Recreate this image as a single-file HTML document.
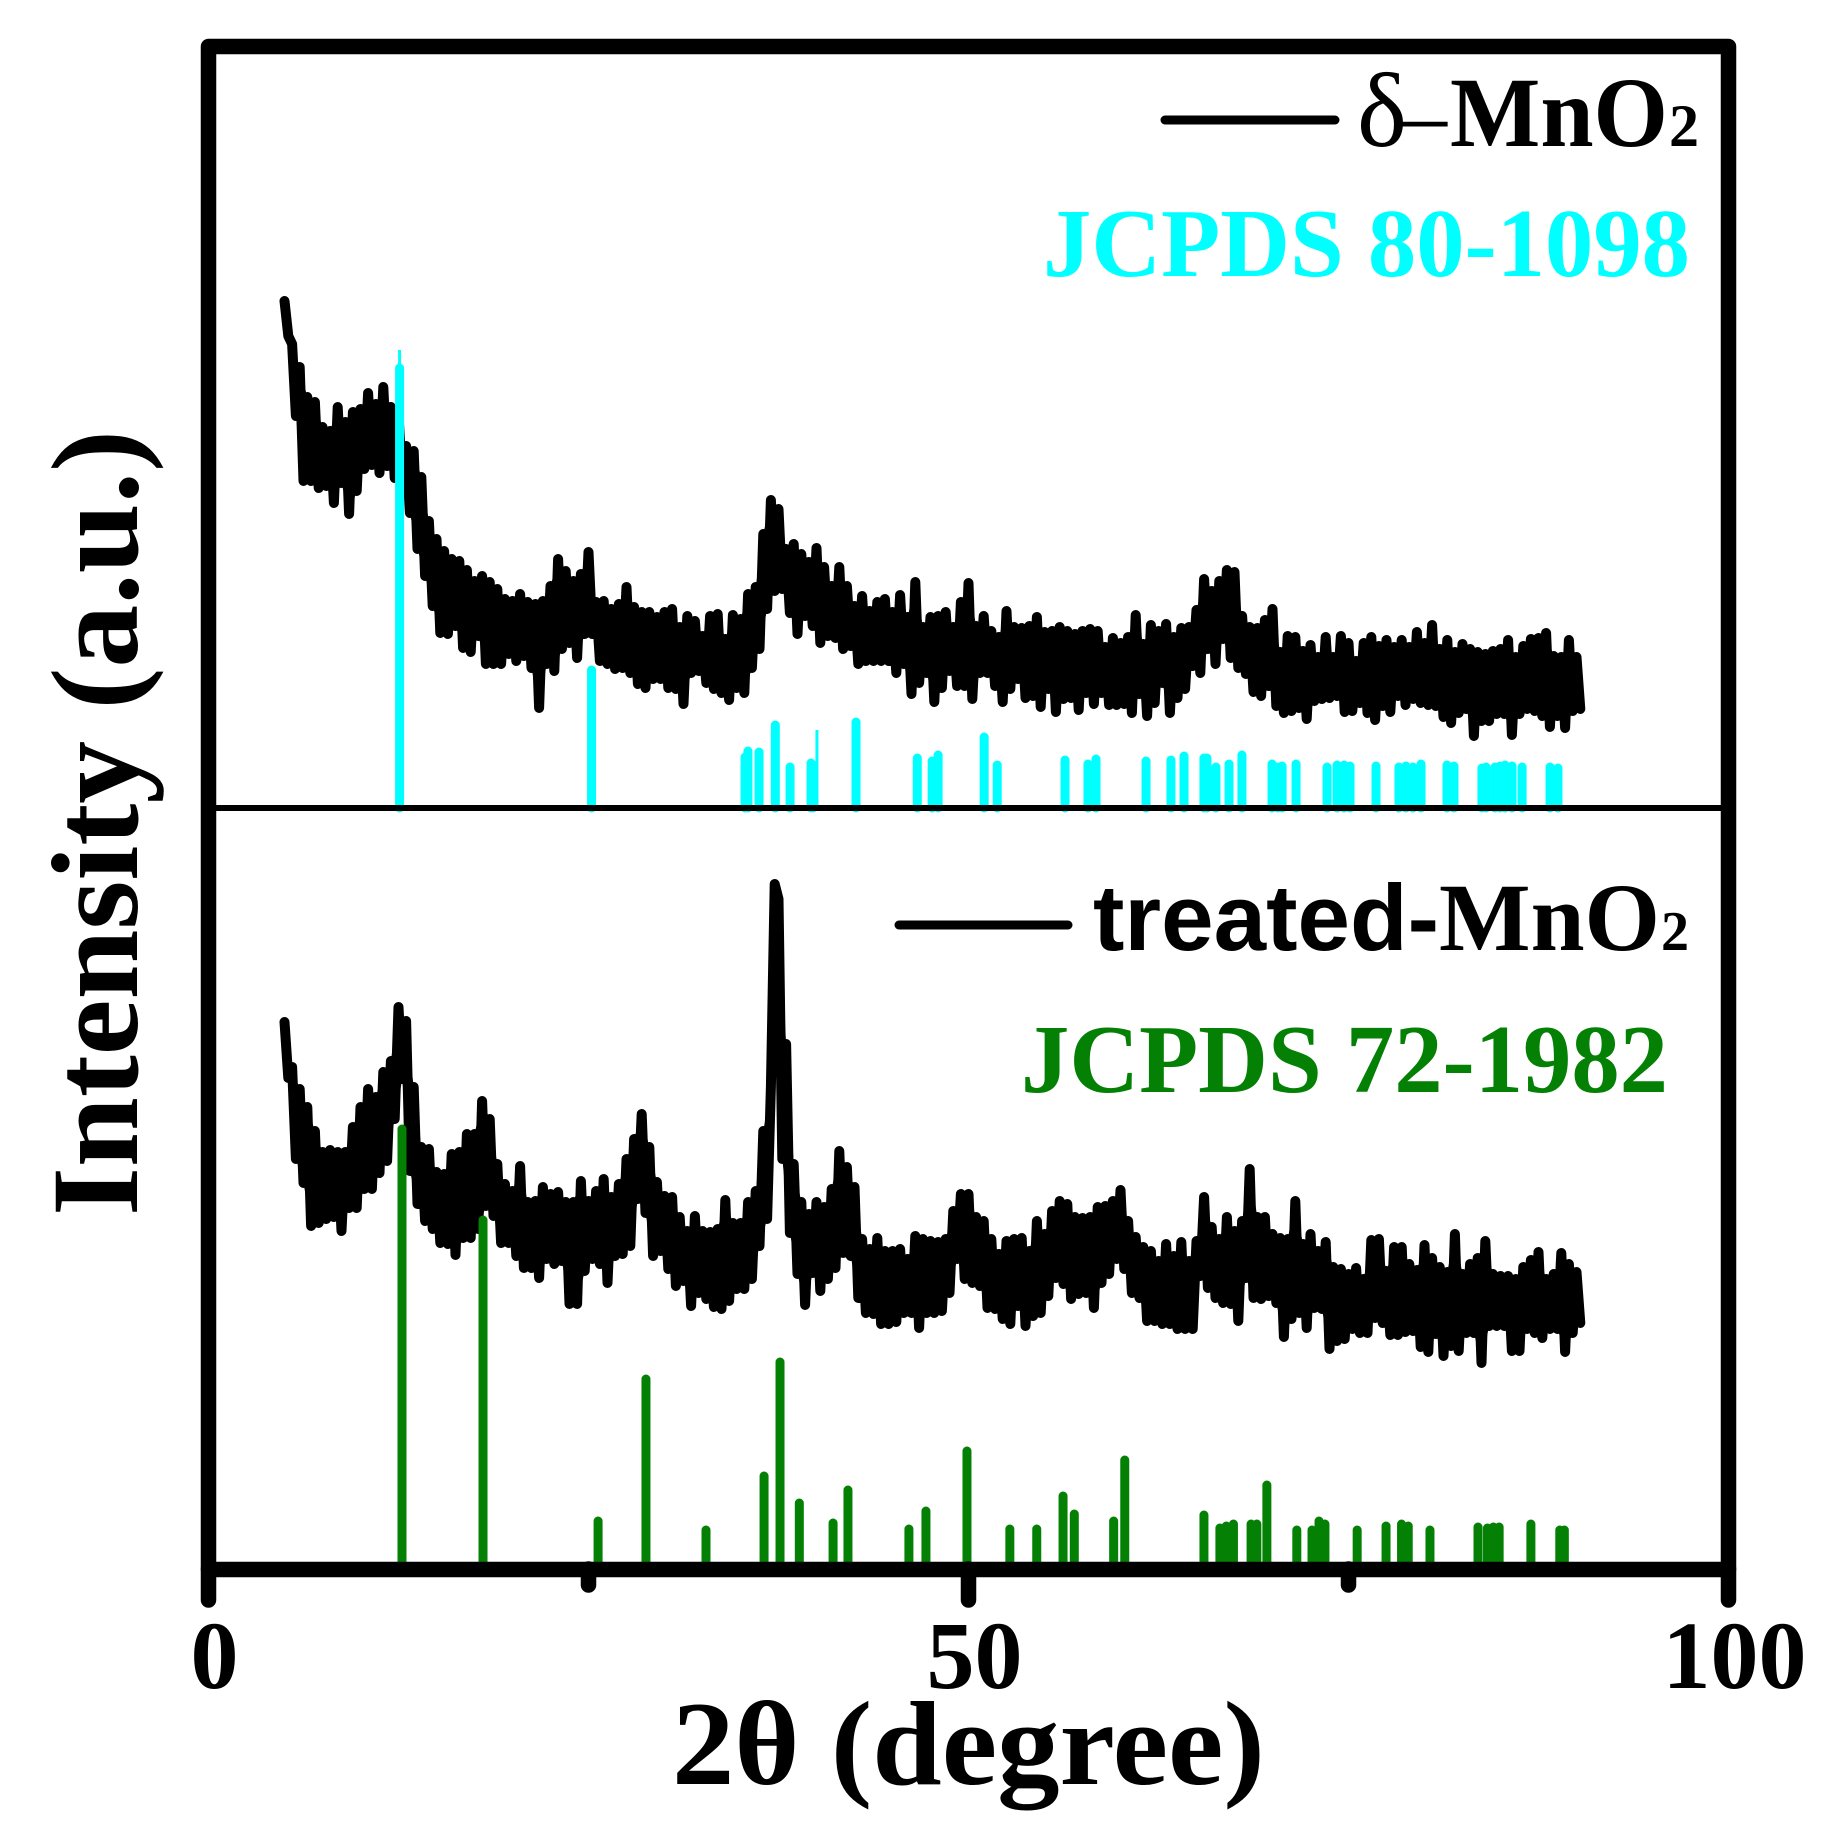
<!DOCTYPE html>
<html lang="en">
<head>
<meta charset="utf-8">
<title>XRD patterns of delta-MnO2 and treated-MnO2</title>
<style>
html,body{margin:0;padding:0;background:#fff;width:1840px;height:1848px;overflow:hidden}
svg{display:block}
text{font-family:"Liberation Serif","DejaVu Serif",serif;font-weight:bold}
</style>
</head>
<body>
<svg id="chart" xmlns="http://www.w3.org/2000/svg" width="1840" height="1848" viewBox="0 0 1840 1848">
  <rect x="0" y="0" width="1840" height="1848" fill="#fff"/>
  <g id="marks"></g>
  <g id="axes"></g>

  <text x="137" y="1216" font-size="124" textLength="786" lengthAdjust="spacingAndGlyphs" transform="rotate(-90 137 1216)">Intensity (a.u.)</text>
  <text x="672" y="1784" font-size="120" textLength="593" lengthAdjust="spacingAndGlyphs">2θ (degree)</text>

  <line x1="1165" y1="120" x2="1335" y2="120" stroke="#000" stroke-width="9" stroke-linecap="round"/>
  <text y="146" font-size="100"><tspan x="1357" font-weight="normal" font-size="106">δ</tspan><tspan x="1400" font-weight="normal" font-size="94">–</tspan><tspan x="1450" textLength="218" lengthAdjust="spacingAndGlyphs">MnO</tspan><tspan x="1669" font-size="60">2</tspan></text>
  <text x="1043" y="276" font-size="98" fill="#00ffff" textLength="647" lengthAdjust="spacingAndGlyphs">JCPDS 80-1098</text>

  <line x1="899" y1="925" x2="1068" y2="925" stroke="#000" stroke-width="9" stroke-linecap="round"/>
  <text y="950" font-size="96"><tspan x="1093" font-family="Liberation Sans" font-size="94" textLength="346" lengthAdjust="spacingAndGlyphs">treated-</tspan><tspan x="1439" textLength="221" lengthAdjust="spacingAndGlyphs">MnO</tspan><tspan x="1661" font-size="56">2</tspan></text>
  <text x="1021" y="1092" font-size="98" fill="#048004" textLength="647" lengthAdjust="spacingAndGlyphs">JCPDS 72-1982</text>
</svg>
<script>
// x axis tick data
const majorTicks = [0, 50, 100];
const minorTicks = [25, 75];
const tickLabels = ["0", "50", "100"];

// sampling of both measured patterns (2-theta degrees)
const thetaStart = 5;
const thetaStep = 0.25;

// delta-MnO2 intensity, alternating crest and trough samples (a.u.)
const deltaIntensity = [
501,466,458,386,435,321,405,321,400,314,375,316,371,299,395,319,380,288,390,311,
393,333,409,337,398,329,415,336,395,324,388,319,356,289,351,253,325,226,281,196,
263,169,251,168,243,176,241,154,232,150,221,166,226,138,220,138,213,138,203,148,
201,141,208,146,200,134,198,94,201,138,216,131,243,153,231,159,221,144,228,168,
250,168,200,141,
201,138,193,133,198,134,215,129,195,118,190,114,190,123,185,123,190,114,193,113,
175,98,186,129,181,131,166,119,186,113,188,109,163,102,187,114,183,109,208,134,
215,153,268,193,302,211,293,213,253,189,258,168,248,186,240,176,254,159,235,166,
216,164,235,153,216,156,196,138,206,141,191,141,200,141,203,141,190,129,207,138,
185,108,220,119,175,129,
185,100,186,114,190,131,175,116,200,116,219,103,176,129,186,129,171,116,165,100,
191,113,175,123,174,104,176,106,185,95,170,113,171,90,175,103,171,104,168,92,
171,109,173,98,171,109,155,97,164,97,159,98,165,89,187,108,158,86,177,99,
171,119,178,89,165,104,174,113,175,136,192,129,223,153,211,138,221,163,232,144,
230,134,186,128,175,110,174,106,
182,116,193,96,150,89,166,91,165,94,151,83,157,101,145,103,165,104,145,106,
166,90,159,91,141,99,159,89,165,82,156,96,162,90,155,106,162,97,155,103,
170,99,159,97,177,96,153,85,162,79,150,89,158,93,153,66,150,81,148,81,
151,88,153,88,162,67,145,88,156,93,163,91,164,86,169,75,146,86,145,74,
162,91,145,93
];

// treated-MnO2 intensity, alternating crest and trough samples (a.u.)
const treatedIntensity = [
544,488,499,407,477,383,459,340,435,343,414,347,416,349,414,335,414,358,439,358,
459,377,477,377,469,393,494,405,505,447,559,487,545,395,479,362,419,345,417,337,
394,323,392,322,412,311,414,328,432,328,432,337,465,360,447,350,402,323,382,323,
375,310,400,298,364,298,365,288,379,307,372,302,374,305,364,262,364,262,385,295,
365,307,375,302,
387,283,369,310,382,312,407,320,427,367,452,353,419,310,384,315,370,297,369,280,
349,285,335,260,350,273,335,267,334,259,337,257,366,265,343,277,343,277,364,287,
375,320,435,347,479,682,667,407,522,333,402,292,364,261,352,293,364,275,359,287,
377,298,415,313,399,310,379,268,327,253,317,252,328,242,315,242,315,244,317,253,
307,253,330,238,327,253,
325,253,324,255,327,273,355,307,372,287,372,283,349,280,345,258,327,257,312,247,
325,242,327,260,328,240,315,250,345,253,332,270,355,288,365,282,362,267,349,272,
348,273,349,258,359,283,360,292,365,307,376,297,345,273,329,268,319,245,315,245,
305,242,322,242,310,237,324,237,305,237,325,290,369,278,339,268,327,263,349,262,
335,245,345,288,397,268,349,267,
349,270,332,263,328,229,327,247,365,253,322,238,332,258,315,257,324,217,299,225,
297,227,292,237,298,233,287,233,326,248,327,243,295,231,319,231,319,234,302,235,
296,219,321,214,308,232,299,210,294,220,332,215,292,233,302,233,308,203,325,240,
292,240,290,240,290,215,287,215,299,237,306,233,314,228,287,237,292,237,313,214,
302,233,294,243
];

// JCPDS 80-1098 reference peaks
const cyanTheta = [12.57,25.20,35.30,35.49,36.22,37.29,38.26,39.64,39.77,42.60,46.63,47.61,48.00,51.03,51.89,56.35,57.86,58.39,61.68,63.32,64.18,65.49,65.69,66.28,67.14,67.99,69.97,70.36,70.63,71.55,73.59,74.25,74.71,75.10,76.81,78.32,78.78,79.24,79.77,81.48,81.94,83.78,84.05,84.64,84.97,85.30,85.76,86.42,88.26,88.78];
const cyanIntensity = [434,132,45,51,50,77,35,39,37,80,44,41,47,65,37,42,38,43,41,42,46,44,44,35,38,47,38,35,36,38,35,37,37,36,36,35,36,35,38,37,36,34,35,35,36,37,36,35,35,34];
const cyanThinTheta = [12.57,40.03];
const cyanThinIntensity = [452,72];

// JCPDS 72-1982 reference peaks
const greenTheta = [12.73,18.06,25.63,28.78,32.73,36.55,37.60,38.87,41.09,42.07,46.08,47.20,49.90,52.72,54.49,56.22,56.96,59.55,60.28,65.49,66.54,66.96,67.43,68.59,68.97,69.63,71.60,72.60,73.06,73.45,75.57,77.47,78.49,78.93,80.36,83.52,84.14,84.53,84.91,87.00,88.90,89.20];
const greenIntensity = [437,346,45,187,36,90,204,63,43,76,37,55,115,37,37,70,52,45,106,51,38,40,42,42,42,81,36,36,45,42,36,40,42,40,36,39,38,39,39,42,36,36];

const NS = 'http://www.w3.org/2000/svg';
const marks = document.getElementById('marks');
const axes = document.getElementById('axes');

function xPos(theta) { return 208.5 + 15.2 * theta; }
function yUpper(v) { return 802 - v; }
function yLower(v) { return 1566 - v; }

function make(tag, attrs, parent) {
  const el = document.createElementNS(NS, tag);
  for (const k in attrs) el.setAttribute(k, attrs[k]);
  parent.appendChild(el);
  return el;
}

function samplePoint(values, i, yFn) {
  return xPos(thetaStart + i * thetaStep).toFixed(1) + ' ' + yFn(values[i]).toFixed(1);
}

function seriesPoints(values, yFn) {
  return values.map(function (v, i) {
    return samplePoint(values, i, yFn).replace(' ', ',');
  }).join(' ');
}

// the pattern is dense enough to read as a solid band: fill each consecutive triple of samples
function bandPath(values, yFn) {
  let d = '';
  for (let i = 0; i + 2 < values.length; i++) {
    d += 'M' + samplePoint(values, i, yFn) + 'L' + samplePoint(values, i + 1, yFn) + 'L' + samplePoint(values, i + 2, yFn) + 'Z';
  }
  return d;
}

const deltaBand = make('path', {d: bandPath(deltaIntensity, yUpper), fill: '#000', stroke: 'none'}, marks);



const deltaLine = make('polyline', {points: seriesPoints(deltaIntensity, yUpper), fill: 'none', stroke: '#000', 'stroke-width': 10, 'stroke-linejoin': 'round', 'stroke-linecap': 'round'}, marks);



const treatedBand = make('path', {d: bandPath(treatedIntensity, yLower), fill: '#000', stroke: 'none'}, marks);



const treatedLine = make('polyline', {points: seriesPoints(treatedIntensity, yLower), fill: 'none', stroke: '#000', 'stroke-width': 10, 'stroke-linejoin': 'round', 'stroke-linecap': 'round'}, marks);



cyanThinTheta.forEach(function (t, i) {
  const s = make('line', {x1: xPos(t), x2: xPos(t), y1: 808, y2: yUpper(cyanThinIntensity[i]), stroke: '#00ffff', 'stroke-width': 3}, marks);
  
  
});

cyanTheta.forEach(function (t, i) {
  const s = make('line', {x1: xPos(t), x2: xPos(t), y1: 808, y2: yUpper(cyanIntensity[i]), stroke: '#00ffff', 'stroke-width': 9, 'stroke-linecap': 'round'}, marks);
  
  
});

greenTheta.forEach(function (t, i) {
  const s = make('line', {x1: xPos(t), x2: xPos(t), y1: 1569, y2: yLower(greenIntensity[i]), stroke: '#048004', 'stroke-width': 9, 'stroke-linecap': 'round'}, marks);
  
  
});

const frame = make('rect', {x: 208.5, y: 46.5, width: 1520, height: 1523, fill: 'none', stroke: '#000', 'stroke-width': 15.5, 'stroke-linejoin': 'round'}, axes);



const divider = make('line', {x1: 208.5, x2: 1728.5, y1: 808, y2: 808, stroke: '#000', 'stroke-width': 6}, axes);



majorTicks.forEach(function (t, i) {
  const tick = make('line', {x1: xPos(t), x2: xPos(t), y1: 1569, y2: 1600, stroke: '#000', 'stroke-width': 15.5, 'stroke-linecap': 'round'}, axes);
  
  
  const label = make('text', {x: xPos(t) + 6, y: 1688, 'font-size': 96, 'text-anchor': 'middle'}, axes);
  label.textContent = tickLabels[i];
  
  
});

minorTicks.forEach(function (t) {
  const tick = make('line', {x1: xPos(t), x2: xPos(t), y1: 1569, y2: 1585, stroke: '#000', 'stroke-width': 15.5, 'stroke-linecap': 'round'}, axes);
  
  
});
</script>
</body>
</html>
